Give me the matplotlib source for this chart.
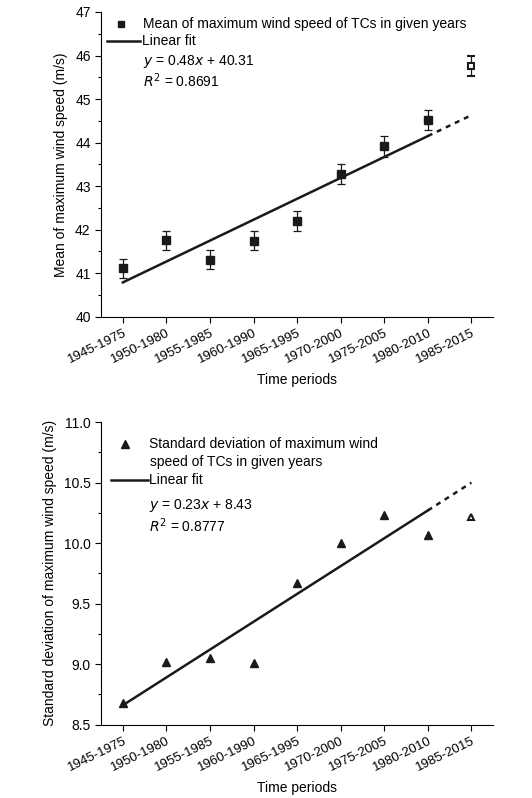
import matplotlib.pyplot as plt
import numpy as np

plt.rcParams['font.family'] = ['Liberation Sans', 'DejaVu Sans']
plt.rcParams['font.size'] = 10

periods = ['1945-1975', '1950-1980', '1955-1985', '1960-1990', '1965-1995',
           '1970-2000', '1975-2005', '1980-2010', '1985-2015']
x = np.arange(1, 10)

mean_ws = [41.11, 41.76, 41.31, 41.75, 42.20, 43.27, 43.92, 44.53, 45.75]
mean_err = [0.21, 0.22, 0.22, 0.21, 0.22, 0.23, 0.24, 0.23, 0.23]
std_ws = [8.68, 9.02, 9.05, 9.01, 9.67, 10.00, 10.23, 10.07, 10.22]

fit1 = (0.48, 40.31)
fit2 = (0.23, 8.43)

fig = plt.figure(figsize=(5.32, 7.98), dpi=100)
ax1 = fig.add_axes([0.19, 0.603, 0.737, 0.382])
ax2 = fig.add_axes([0.19, 0.092, 0.737, 0.379])

def style(ax, ylim, major, minor, ylabel):
    ax.spines['top'].set_visible(False)
    ax.spines['right'].set_visible(False)
    ax.set_xlim(0.5, 9.5)
    ax.set_ylim(*ylim)
    ax.set_yticks(np.arange(ylim[0], ylim[1] + 1e-9, major))
    ax.set_yticks(np.arange(ylim[0], ylim[1] + 1e-9, minor), minor=True)
    ax.set_xticks(x)
    ax.set_xticklabels(periods, rotation=26, ha='right', rotation_mode='anchor',
                       fontsize=9.5)
    ax.tick_params(direction='out', length=4, width=0.8)
    ax.tick_params(which='minor', direction='out', length=2.5, width=0.8)
    ax.set_xlabel('Time periods', labelpad=5)
    ax.set_ylabel(ylabel, labelpad=5)

# top panel
ax1.errorbar(x[:-1], mean_ws[:-1], yerr=mean_err[:-1], fmt='s', color='#1a1a1a',
             ms=5.5, capsize=3, elinewidth=0.9, capthick=0.9)
ax1.errorbar(x[-1:], mean_ws[-1:], yerr=mean_err[-1:], fmt='s', color='#1a1a1a',
             mfc='white', mec='#1a1a1a', mew=1.5, ms=5, capsize=3,
             elinewidth=0.9, capthick=0.9)
xf = np.array([1, 8])
ax1.plot(xf, fit1[0] * xf + fit1[1], color='#1a1a1a', lw=1.8)
xd = np.array([8, 9])
ax1.plot(xd, fit1[0] * xd + fit1[1], color='#1a1a1a', lw=1.8, ls=(0, (2, 2)))
style(ax1, (40, 47), 1, 0.5, 'Mean of maximum wind speed (m/s)')
ax1.yaxis.set_major_formatter(plt.FormatStrFormatter('%d'))

ax1.plot([0.95], [46.73], 's', color='#1a1a1a', ms=5, clip_on=False)
ax1.text(1.47, 46.73, 'Mean of maximum wind speed of TCs in given years', va='center')
ax1.plot([0.64, 1.4], [46.33, 46.33], color='#1a1a1a', lw=1.8, clip_on=False)
ax1.text(1.43, 46.33, 'Linear fit', va='center')
ax1.text(1.47, 45.87, r'$y$ = 0.48$x$ + 40.31', va='center')
ax1.text(1.47, 45.43, r'$R^2$ = 0.8691', va='center')

# bottom panel
ax2.plot(x[:-1], std_ws[:-1], '^', color='#1a1a1a', ms=6)
ax2.plot(x[-1:], std_ws[-1:], '^', color='#1a1a1a', mfc='white', mew=1.5, ms=5)
ax2.plot(xf, fit2[0] * xf + fit2[1], color='#1a1a1a', lw=1.8)
ax2.plot(xd, fit2[0] * xd + fit2[1], color='#1a1a1a', lw=1.8, ls=(0, (2, 2)))
style(ax2, (8.5, 11.0), 0.5, 0.25, 'Standard deviation of maximum wind speed (m/s)')
ax2.yaxis.set_major_formatter(plt.FormatStrFormatter('%.1f'))

ax2.plot([1.05], [10.82], '^', color='#1a1a1a', ms=6, clip_on=False)
ax2.text(1.6, 10.82, 'Standard deviation of maximum wind', va='center')
ax2.text(1.63, 10.67, 'speed of TCs in given years', va='center')
ax2.plot([0.72, 1.57], [10.52, 10.52], color='#1a1a1a', lw=1.8, clip_on=False)
ax2.text(1.6, 10.52, 'Linear fit', va='center')
ax2.text(1.6, 10.31, r'$y$ = 0.23$x$ + 8.43', va='center')
ax2.text(1.6, 10.14, r'$R^2$ = 0.8777', va='center')

fig.savefig('out.png', dpi=100)
